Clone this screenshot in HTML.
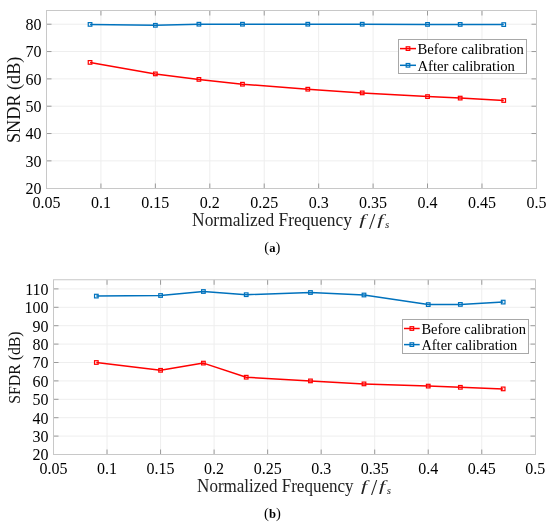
<!DOCTYPE html>
<html><head><meta charset="utf-8"><style>
html,body{margin:0;padding:0;background:#fff;}
svg{display:block;}
text{font-family:"Liberation Serif", "Times New Roman", serif;fill:#000;}
.tk{font-size:16px;fill:#000;}
.lg{fill:#000;}
.yl{fill:#111;}
.xl{fill:#222;}
.mi{font-style:italic;}
.cap{fill:#000;}
</style></head><body>
<svg width="550" height="527" viewBox="0 0 550 527">
<rect width="550" height="527" fill="#fff"/>
<line x1="100.93" y1="10.5" x2="100.93" y2="188.5" stroke="#EEEEEE" stroke-width="1"/>
<line x1="155.37" y1="10.5" x2="155.37" y2="188.5" stroke="#EEEEEE" stroke-width="1"/>
<line x1="209.8" y1="10.5" x2="209.8" y2="188.5" stroke="#EEEEEE" stroke-width="1"/>
<line x1="264.23" y1="10.5" x2="264.23" y2="188.5" stroke="#EEEEEE" stroke-width="1"/>
<line x1="318.67" y1="10.5" x2="318.67" y2="188.5" stroke="#EEEEEE" stroke-width="1"/>
<line x1="373.1" y1="10.5" x2="373.1" y2="188.5" stroke="#EEEEEE" stroke-width="1"/>
<line x1="427.53" y1="10.5" x2="427.53" y2="188.5" stroke="#EEEEEE" stroke-width="1"/>
<line x1="481.97" y1="10.5" x2="481.97" y2="188.5" stroke="#EEEEEE" stroke-width="1"/>
<line x1="46.5" y1="160.87" x2="536.5" y2="160.87" stroke="#EEEEEE" stroke-width="1"/>
<line x1="46.5" y1="133.54" x2="536.5" y2="133.54" stroke="#EEEEEE" stroke-width="1"/>
<line x1="46.5" y1="106.21" x2="536.5" y2="106.21" stroke="#EEEEEE" stroke-width="1"/>
<line x1="46.5" y1="78.88" x2="536.5" y2="78.88" stroke="#EEEEEE" stroke-width="1"/>
<line x1="46.5" y1="51.55" x2="536.5" y2="51.55" stroke="#EEEEEE" stroke-width="1"/>
<line x1="46.5" y1="24.22" x2="536.5" y2="24.22" stroke="#EEEEEE" stroke-width="1"/>
<line x1="100.93" y1="188.5" x2="100.93" y2="183.5" stroke="#9a9a9a" stroke-width="1"/>
<line x1="100.93" y1="10.5" x2="100.93" y2="15.5" stroke="#9a9a9a" stroke-width="1"/>
<line x1="155.37" y1="188.5" x2="155.37" y2="183.5" stroke="#9a9a9a" stroke-width="1"/>
<line x1="155.37" y1="10.5" x2="155.37" y2="15.5" stroke="#9a9a9a" stroke-width="1"/>
<line x1="209.8" y1="188.5" x2="209.8" y2="183.5" stroke="#9a9a9a" stroke-width="1"/>
<line x1="209.8" y1="10.5" x2="209.8" y2="15.5" stroke="#9a9a9a" stroke-width="1"/>
<line x1="264.23" y1="188.5" x2="264.23" y2="183.5" stroke="#9a9a9a" stroke-width="1"/>
<line x1="264.23" y1="10.5" x2="264.23" y2="15.5" stroke="#9a9a9a" stroke-width="1"/>
<line x1="318.67" y1="188.5" x2="318.67" y2="183.5" stroke="#9a9a9a" stroke-width="1"/>
<line x1="318.67" y1="10.5" x2="318.67" y2="15.5" stroke="#9a9a9a" stroke-width="1"/>
<line x1="373.1" y1="188.5" x2="373.1" y2="183.5" stroke="#9a9a9a" stroke-width="1"/>
<line x1="373.1" y1="10.5" x2="373.1" y2="15.5" stroke="#9a9a9a" stroke-width="1"/>
<line x1="427.53" y1="188.5" x2="427.53" y2="183.5" stroke="#9a9a9a" stroke-width="1"/>
<line x1="427.53" y1="10.5" x2="427.53" y2="15.5" stroke="#9a9a9a" stroke-width="1"/>
<line x1="481.97" y1="188.5" x2="481.97" y2="183.5" stroke="#9a9a9a" stroke-width="1"/>
<line x1="481.97" y1="10.5" x2="481.97" y2="15.5" stroke="#9a9a9a" stroke-width="1"/>
<line x1="46.5" y1="160.87" x2="51.5" y2="160.87" stroke="#9a9a9a" stroke-width="1"/>
<line x1="536.5" y1="160.87" x2="531.5" y2="160.87" stroke="#9a9a9a" stroke-width="1"/>
<line x1="46.5" y1="133.54" x2="51.5" y2="133.54" stroke="#9a9a9a" stroke-width="1"/>
<line x1="536.5" y1="133.54" x2="531.5" y2="133.54" stroke="#9a9a9a" stroke-width="1"/>
<line x1="46.5" y1="106.21" x2="51.5" y2="106.21" stroke="#9a9a9a" stroke-width="1"/>
<line x1="536.5" y1="106.21" x2="531.5" y2="106.21" stroke="#9a9a9a" stroke-width="1"/>
<line x1="46.5" y1="78.88" x2="51.5" y2="78.88" stroke="#9a9a9a" stroke-width="1"/>
<line x1="536.5" y1="78.88" x2="531.5" y2="78.88" stroke="#9a9a9a" stroke-width="1"/>
<line x1="46.5" y1="51.55" x2="51.5" y2="51.55" stroke="#9a9a9a" stroke-width="1"/>
<line x1="536.5" y1="51.55" x2="531.5" y2="51.55" stroke="#9a9a9a" stroke-width="1"/>
<line x1="46.5" y1="24.22" x2="51.5" y2="24.22" stroke="#9a9a9a" stroke-width="1"/>
<line x1="536.5" y1="24.22" x2="531.5" y2="24.22" stroke="#9a9a9a" stroke-width="1"/>
<rect x="46.5" y="10.5" width="490" height="178" fill="none" stroke="#C8C8C8" stroke-width="1"/>
<text x="41.6" y="194.1" text-anchor="end" class="tk">20</text>
<text x="41.6" y="166.77" text-anchor="end" class="tk">30</text>
<text x="41.6" y="139.44" text-anchor="end" class="tk">40</text>
<text x="41.6" y="112.11" text-anchor="end" class="tk">50</text>
<text x="41.6" y="84.78" text-anchor="end" class="tk">60</text>
<text x="41.6" y="57.45" text-anchor="end" class="tk">70</text>
<text x="41.6" y="30.12" text-anchor="end" class="tk">80</text>
<text x="46.5" y="208" text-anchor="middle" class="tk">0.05</text>
<text x="100.93" y="208" text-anchor="middle" class="tk">0.1</text>
<text x="155.37" y="208" text-anchor="middle" class="tk">0.15</text>
<text x="209.8" y="208" text-anchor="middle" class="tk">0.2</text>
<text x="264.23" y="208" text-anchor="middle" class="tk">0.25</text>
<text x="318.67" y="208" text-anchor="middle" class="tk">0.3</text>
<text x="373.1" y="208" text-anchor="middle" class="tk">0.35</text>
<text x="427.53" y="208" text-anchor="middle" class="tk">0.4</text>
<text x="481.97" y="208" text-anchor="middle" class="tk">0.45</text>
<text x="536.4" y="208" text-anchor="middle" class="tk">0.5</text>
<polyline points="90.05,24.4 155.37,25.3 198.91,24.2 242.46,24.2 307.78,24.2 362.21,24.2 427.53,24.4 460.19,24.4 503.74,24.6" fill="none" stroke="#0072BD" stroke-width="1.5" stroke-linejoin="round"/>
<rect x="88.25" y="22.6" width="3.6" height="3.6" fill="none" stroke="#0072BD" stroke-width="1.2"/>
<rect x="153.57" y="23.5" width="3.6" height="3.6" fill="none" stroke="#0072BD" stroke-width="1.2"/>
<rect x="197.11" y="22.4" width="3.6" height="3.6" fill="none" stroke="#0072BD" stroke-width="1.2"/>
<rect x="240.66" y="22.4" width="3.6" height="3.6" fill="none" stroke="#0072BD" stroke-width="1.2"/>
<rect x="305.98" y="22.4" width="3.6" height="3.6" fill="none" stroke="#0072BD" stroke-width="1.2"/>
<rect x="360.41" y="22.4" width="3.6" height="3.6" fill="none" stroke="#0072BD" stroke-width="1.2"/>
<rect x="425.73" y="22.6" width="3.6" height="3.6" fill="none" stroke="#0072BD" stroke-width="1.2"/>
<rect x="458.39" y="22.6" width="3.6" height="3.6" fill="none" stroke="#0072BD" stroke-width="1.2"/>
<rect x="501.94" y="22.8" width="3.6" height="3.6" fill="none" stroke="#0072BD" stroke-width="1.2"/>
<polyline points="90.05,62.4 155.37,73.9 198.91,79.4 242.46,84.2 307.78,89.2 362.21,92.9 427.53,96.6 460.19,98.1 503.74,100.5" fill="none" stroke="#FF0000" stroke-width="1.5" stroke-linejoin="round"/>
<rect x="88.25" y="60.6" width="3.6" height="3.6" fill="none" stroke="#FF0000" stroke-width="1.2"/>
<rect x="153.57" y="72.1" width="3.6" height="3.6" fill="none" stroke="#FF0000" stroke-width="1.2"/>
<rect x="197.11" y="77.6" width="3.6" height="3.6" fill="none" stroke="#FF0000" stroke-width="1.2"/>
<rect x="240.66" y="82.4" width="3.6" height="3.6" fill="none" stroke="#FF0000" stroke-width="1.2"/>
<rect x="305.98" y="87.4" width="3.6" height="3.6" fill="none" stroke="#FF0000" stroke-width="1.2"/>
<rect x="360.41" y="91.1" width="3.6" height="3.6" fill="none" stroke="#FF0000" stroke-width="1.2"/>
<rect x="425.73" y="94.8" width="3.6" height="3.6" fill="none" stroke="#FF0000" stroke-width="1.2"/>
<rect x="458.39" y="96.3" width="3.6" height="3.6" fill="none" stroke="#FF0000" stroke-width="1.2"/>
<rect x="501.94" y="98.7" width="3.6" height="3.6" fill="none" stroke="#FF0000" stroke-width="1.2"/>
<rect x="398.5" y="39.5" width="128" height="34" fill="#fff" stroke="#A8A8A8" stroke-width="1"/>
<line x1="400" y1="48.6" x2="416" y2="48.6" stroke="#FF0000" stroke-width="1.5"/>
<rect x="406.2" y="46.8" width="3.6" height="3.6" fill="none" stroke="#FF0000" stroke-width="1.2"/>
<text x="417.5" y="54.3" class="lg" style="font-size:14.7px">Before calibration</text>
<line x1="400" y1="65.3" x2="416" y2="65.3" stroke="#0072BD" stroke-width="1.5"/>
<rect x="406.2" y="63.5" width="3.6" height="3.6" fill="none" stroke="#0072BD" stroke-width="1.2"/>
<text x="417.5" y="70.6" class="lg" style="font-size:14.7px">After calibration</text>
<text transform="translate(20.1,99.8) rotate(-90)" text-anchor="middle" class="yl" style="font-size:18.2px">SNDR (dB)</text>
<text transform="matrix(1,0,0,1.07,192.1,225.8)" class="xl" style="font-size:17.4px">Normalized Frequency</text>
<text transform="matrix(1.3,0,0,0.83,359.2,224.9)" class="xl mi" style="font-size:17.4px">f</text>
<text transform="matrix(1.0,0,0,1.0,369.1,229.1)" class="xl" style="font-size:22.968px">/</text>
<text transform="matrix(1.3,0,0,0.83,377.2,224.9)" class="xl mi" style="font-size:17.4px">f</text>
<text transform="matrix(1.15,0,0,1.0,385.1,228)" class="xl mi" style="font-size:9.5px">s</text>
<text x="272.3" y="251.9" text-anchor="middle" class="cap" style="font-size:14.6px">(<tspan font-weight="bold" style="font-size:12.6px">a</tspan>)</text>
<line x1="107.03" y1="279.75" x2="107.03" y2="454.5" stroke="#EEEEEE" stroke-width="1"/>
<line x1="160.57" y1="279.75" x2="160.57" y2="454.5" stroke="#EEEEEE" stroke-width="1"/>
<line x1="214.1" y1="279.75" x2="214.1" y2="454.5" stroke="#EEEEEE" stroke-width="1"/>
<line x1="267.63" y1="279.75" x2="267.63" y2="454.5" stroke="#EEEEEE" stroke-width="1"/>
<line x1="321.17" y1="279.75" x2="321.17" y2="454.5" stroke="#EEEEEE" stroke-width="1"/>
<line x1="374.7" y1="279.75" x2="374.7" y2="454.5" stroke="#EEEEEE" stroke-width="1"/>
<line x1="428.23" y1="279.75" x2="428.23" y2="454.5" stroke="#EEEEEE" stroke-width="1"/>
<line x1="481.77" y1="279.75" x2="481.77" y2="454.5" stroke="#EEEEEE" stroke-width="1"/>
<line x1="53.5" y1="436.1" x2="535.5" y2="436.1" stroke="#EEEEEE" stroke-width="1"/>
<line x1="53.5" y1="417.7" x2="535.5" y2="417.7" stroke="#EEEEEE" stroke-width="1"/>
<line x1="53.5" y1="399.3" x2="535.5" y2="399.3" stroke="#EEEEEE" stroke-width="1"/>
<line x1="53.5" y1="380.9" x2="535.5" y2="380.9" stroke="#EEEEEE" stroke-width="1"/>
<line x1="53.5" y1="362.5" x2="535.5" y2="362.5" stroke="#EEEEEE" stroke-width="1"/>
<line x1="53.5" y1="344.1" x2="535.5" y2="344.1" stroke="#EEEEEE" stroke-width="1"/>
<line x1="53.5" y1="325.7" x2="535.5" y2="325.7" stroke="#EEEEEE" stroke-width="1"/>
<line x1="53.5" y1="307.3" x2="535.5" y2="307.3" stroke="#EEEEEE" stroke-width="1"/>
<line x1="53.5" y1="288.9" x2="535.5" y2="288.9" stroke="#EEEEEE" stroke-width="1"/>
<line x1="107.03" y1="454.5" x2="107.03" y2="449.5" stroke="#9a9a9a" stroke-width="1"/>
<line x1="107.03" y1="279.75" x2="107.03" y2="284.75" stroke="#9a9a9a" stroke-width="1"/>
<line x1="160.57" y1="454.5" x2="160.57" y2="449.5" stroke="#9a9a9a" stroke-width="1"/>
<line x1="160.57" y1="279.75" x2="160.57" y2="284.75" stroke="#9a9a9a" stroke-width="1"/>
<line x1="214.1" y1="454.5" x2="214.1" y2="449.5" stroke="#9a9a9a" stroke-width="1"/>
<line x1="214.1" y1="279.75" x2="214.1" y2="284.75" stroke="#9a9a9a" stroke-width="1"/>
<line x1="267.63" y1="454.5" x2="267.63" y2="449.5" stroke="#9a9a9a" stroke-width="1"/>
<line x1="267.63" y1="279.75" x2="267.63" y2="284.75" stroke="#9a9a9a" stroke-width="1"/>
<line x1="321.17" y1="454.5" x2="321.17" y2="449.5" stroke="#9a9a9a" stroke-width="1"/>
<line x1="321.17" y1="279.75" x2="321.17" y2="284.75" stroke="#9a9a9a" stroke-width="1"/>
<line x1="374.7" y1="454.5" x2="374.7" y2="449.5" stroke="#9a9a9a" stroke-width="1"/>
<line x1="374.7" y1="279.75" x2="374.7" y2="284.75" stroke="#9a9a9a" stroke-width="1"/>
<line x1="428.23" y1="454.5" x2="428.23" y2="449.5" stroke="#9a9a9a" stroke-width="1"/>
<line x1="428.23" y1="279.75" x2="428.23" y2="284.75" stroke="#9a9a9a" stroke-width="1"/>
<line x1="481.77" y1="454.5" x2="481.77" y2="449.5" stroke="#9a9a9a" stroke-width="1"/>
<line x1="481.77" y1="279.75" x2="481.77" y2="284.75" stroke="#9a9a9a" stroke-width="1"/>
<line x1="53.5" y1="436.1" x2="58.5" y2="436.1" stroke="#9a9a9a" stroke-width="1"/>
<line x1="535.5" y1="436.1" x2="530.5" y2="436.1" stroke="#9a9a9a" stroke-width="1"/>
<line x1="53.5" y1="417.7" x2="58.5" y2="417.7" stroke="#9a9a9a" stroke-width="1"/>
<line x1="535.5" y1="417.7" x2="530.5" y2="417.7" stroke="#9a9a9a" stroke-width="1"/>
<line x1="53.5" y1="399.3" x2="58.5" y2="399.3" stroke="#9a9a9a" stroke-width="1"/>
<line x1="535.5" y1="399.3" x2="530.5" y2="399.3" stroke="#9a9a9a" stroke-width="1"/>
<line x1="53.5" y1="380.9" x2="58.5" y2="380.9" stroke="#9a9a9a" stroke-width="1"/>
<line x1="535.5" y1="380.9" x2="530.5" y2="380.9" stroke="#9a9a9a" stroke-width="1"/>
<line x1="53.5" y1="362.5" x2="58.5" y2="362.5" stroke="#9a9a9a" stroke-width="1"/>
<line x1="535.5" y1="362.5" x2="530.5" y2="362.5" stroke="#9a9a9a" stroke-width="1"/>
<line x1="53.5" y1="344.1" x2="58.5" y2="344.1" stroke="#9a9a9a" stroke-width="1"/>
<line x1="535.5" y1="344.1" x2="530.5" y2="344.1" stroke="#9a9a9a" stroke-width="1"/>
<line x1="53.5" y1="325.7" x2="58.5" y2="325.7" stroke="#9a9a9a" stroke-width="1"/>
<line x1="535.5" y1="325.7" x2="530.5" y2="325.7" stroke="#9a9a9a" stroke-width="1"/>
<line x1="53.5" y1="307.3" x2="58.5" y2="307.3" stroke="#9a9a9a" stroke-width="1"/>
<line x1="535.5" y1="307.3" x2="530.5" y2="307.3" stroke="#9a9a9a" stroke-width="1"/>
<line x1="53.5" y1="288.9" x2="58.5" y2="288.9" stroke="#9a9a9a" stroke-width="1"/>
<line x1="535.5" y1="288.9" x2="530.5" y2="288.9" stroke="#9a9a9a" stroke-width="1"/>
<rect x="53.5" y="279.75" width="482" height="174.75" fill="none" stroke="#C8C8C8" stroke-width="1"/>
<text x="48.6" y="460.4" text-anchor="end" class="tk">20</text>
<text x="48.6" y="442" text-anchor="end" class="tk">30</text>
<text x="48.6" y="423.6" text-anchor="end" class="tk">40</text>
<text x="48.6" y="405.2" text-anchor="end" class="tk">50</text>
<text x="48.6" y="386.8" text-anchor="end" class="tk">60</text>
<text x="48.6" y="368.4" text-anchor="end" class="tk">70</text>
<text x="48.6" y="350" text-anchor="end" class="tk">80</text>
<text x="48.6" y="331.6" text-anchor="end" class="tk">90</text>
<text x="48.6" y="313.2" text-anchor="end" class="tk">100</text>
<text x="48.6" y="294.8" text-anchor="end" class="tk">110</text>
<text x="53.5" y="474" text-anchor="middle" class="tk">0.05</text>
<text x="107.03" y="474" text-anchor="middle" class="tk">0.1</text>
<text x="160.57" y="474" text-anchor="middle" class="tk">0.15</text>
<text x="214.1" y="474" text-anchor="middle" class="tk">0.2</text>
<text x="267.63" y="474" text-anchor="middle" class="tk">0.25</text>
<text x="321.17" y="474" text-anchor="middle" class="tk">0.3</text>
<text x="374.7" y="474" text-anchor="middle" class="tk">0.35</text>
<text x="428.23" y="474" text-anchor="middle" class="tk">0.4</text>
<text x="481.77" y="474" text-anchor="middle" class="tk">0.45</text>
<text x="535.3" y="474" text-anchor="middle" class="tk">0.5</text>
<polyline points="96.33,296.1 160.57,295.5 203.39,291.5 246.22,294.7 310.46,292.5 363.99,295 428.23,304.6 460.35,304.4 503.18,302.1" fill="none" stroke="#0072BD" stroke-width="1.5" stroke-linejoin="round"/>
<rect x="94.53" y="294.3" width="3.6" height="3.6" fill="none" stroke="#0072BD" stroke-width="1.2"/>
<rect x="158.77" y="293.7" width="3.6" height="3.6" fill="none" stroke="#0072BD" stroke-width="1.2"/>
<rect x="201.59" y="289.7" width="3.6" height="3.6" fill="none" stroke="#0072BD" stroke-width="1.2"/>
<rect x="244.42" y="292.9" width="3.6" height="3.6" fill="none" stroke="#0072BD" stroke-width="1.2"/>
<rect x="308.66" y="290.7" width="3.6" height="3.6" fill="none" stroke="#0072BD" stroke-width="1.2"/>
<rect x="362.19" y="293.2" width="3.6" height="3.6" fill="none" stroke="#0072BD" stroke-width="1.2"/>
<rect x="426.43" y="302.8" width="3.6" height="3.6" fill="none" stroke="#0072BD" stroke-width="1.2"/>
<rect x="458.55" y="302.6" width="3.6" height="3.6" fill="none" stroke="#0072BD" stroke-width="1.2"/>
<rect x="501.38" y="300.3" width="3.6" height="3.6" fill="none" stroke="#0072BD" stroke-width="1.2"/>
<polyline points="96.33,362.5 160.57,370.3 203.39,363.1 246.22,377.2 310.46,380.9 363.99,383.9 428.23,386.1 460.35,387.3 503.18,388.9" fill="none" stroke="#FF0000" stroke-width="1.5" stroke-linejoin="round"/>
<rect x="94.53" y="360.7" width="3.6" height="3.6" fill="none" stroke="#FF0000" stroke-width="1.2"/>
<rect x="158.77" y="368.5" width="3.6" height="3.6" fill="none" stroke="#FF0000" stroke-width="1.2"/>
<rect x="201.59" y="361.3" width="3.6" height="3.6" fill="none" stroke="#FF0000" stroke-width="1.2"/>
<rect x="244.42" y="375.4" width="3.6" height="3.6" fill="none" stroke="#FF0000" stroke-width="1.2"/>
<rect x="308.66" y="379.1" width="3.6" height="3.6" fill="none" stroke="#FF0000" stroke-width="1.2"/>
<rect x="362.19" y="382.1" width="3.6" height="3.6" fill="none" stroke="#FF0000" stroke-width="1.2"/>
<rect x="426.43" y="384.3" width="3.6" height="3.6" fill="none" stroke="#FF0000" stroke-width="1.2"/>
<rect x="458.55" y="385.5" width="3.6" height="3.6" fill="none" stroke="#FF0000" stroke-width="1.2"/>
<rect x="501.38" y="387.1" width="3.6" height="3.6" fill="none" stroke="#FF0000" stroke-width="1.2"/>
<rect x="402.5" y="319.5" width="126" height="34" fill="#fff" stroke="#A8A8A8" stroke-width="1"/>
<line x1="404" y1="328.5" x2="419.7" y2="328.5" stroke="#FF0000" stroke-width="1.5"/>
<rect x="410.05" y="326.7" width="3.6" height="3.6" fill="none" stroke="#FF0000" stroke-width="1.2"/>
<text x="421.4" y="334.2" class="lg" style="font-size:14.45px">Before calibration</text>
<line x1="404" y1="344.6" x2="419.7" y2="344.6" stroke="#0072BD" stroke-width="1.5"/>
<rect x="410.05" y="342.8" width="3.6" height="3.6" fill="none" stroke="#0072BD" stroke-width="1.2"/>
<text x="421.4" y="350.4" class="lg" style="font-size:14.45px">After calibration</text>
<text transform="translate(19.7,367.6) rotate(-90)" text-anchor="middle" class="yl" style="font-size:15.8px">SFDR (dB)</text>
<text transform="matrix(1,0,0,1.07,197.1,491.6)" class="xl" style="font-size:17.03px">Normalized Frequency</text>
<text transform="matrix(1.3,0,0,0.83,361.1,490.7)" class="xl mi" style="font-size:17.03px">f</text>
<text transform="matrix(1.0,0,0,1.0,371,494.9)" class="xl" style="font-size:22.4796px">/</text>
<text transform="matrix(1.3,0,0,0.83,379,490.7)" class="xl mi" style="font-size:17.03px">f</text>
<text transform="matrix(1.15,0,0,1.0,386.7,494)" class="xl mi" style="font-size:9.5px">s</text>
<text x="272.5" y="517.6" text-anchor="middle" class="cap" style="font-size:14.6px">(<tspan font-weight="bold" style="font-size:12.6px">b</tspan>)</text>
</svg>
</body></html>
